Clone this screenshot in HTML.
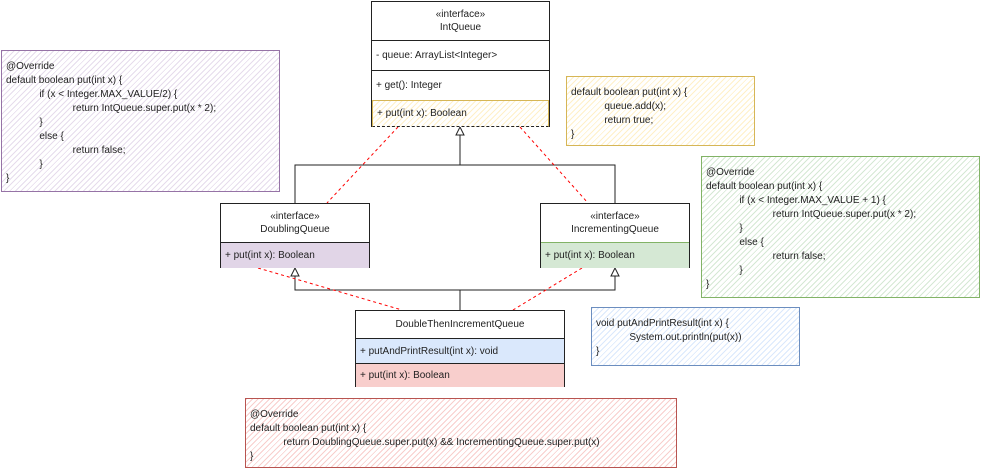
<!DOCTYPE html>
<html><head><meta charset="utf-8"><style>
body{margin:0;width:981px;height:469px;background:#fff;position:relative;overflow:hidden;font-family:"Liberation Sans",sans-serif;font-size:10px;color:#222}
.a{position:absolute;box-sizing:border-box}
.note{border:1px solid;padding:9px 4px;line-height:14px;white-space:pre}
.p{border-color:#9673a6;background:repeating-linear-gradient(135deg,#e6dcec 0 1px,#fff 1px 4px)}
.y{border-color:#d6b656;background:repeating-linear-gradient(135deg,#fff0c8 0 1px,#fff 1px 4px)}
.g{border-color:#82b366;background:repeating-linear-gradient(135deg,#d5e8d4 0 1px,#fff 1px 4px)}
.b{border-color:#6c8ebf;background:repeating-linear-gradient(135deg,#dae8fc 0 1px,#fff 1px 4px)}
.r{border-color:#b85450;background:repeating-linear-gradient(135deg,#f8cecc 0 1px,#fff 1px 4px)}
.box{border:1px solid #222;background:#fff}
.row{position:absolute;left:0;right:0;box-sizing:border-box;padding-left:4px;display:flex;align-items:center}
.c{justify-content:center;text-align:center;padding:0;line-height:13px}
</style></head><body>
<svg class="a" style="left:0;top:0" width="981" height="469">
<g stroke="#222" fill="none" stroke-width="1">
<polyline points="295,203 295,165 460,165 460,135"/>
<polyline points="615,203 615,165 460,165"/>
<polyline points="460,310 460,290 295,290 295,276"/>
<polyline points="460,290 615,290 615,276"/>
<polygon points="460,127 456,135 464,135" fill="#fff"/>
<polygon points="295,268 291,276 299,276" fill="#fff"/>
<polygon points="615,268 611,276 619,276" fill="#fff"/>
</g>
<g stroke="#f00" stroke-dasharray="3,3" stroke-width="1">
<line x1="398" y1="127" x2="327" y2="203"/>
<line x1="520" y1="127" x2="588" y2="203"/>
<line x1="258" y1="268" x2="402" y2="310"/>
<line x1="582" y1="268" x2="513" y2="310"/>
</g>
</svg>
<div class="a note p" style="left:1px;top:50px;width:279px;height:142px">@Override
default boolean put(int x) {
            if (x &lt; Integer.MAX_VALUE/2) {
                        return IntQueue.super.put(x * 2);
            }
            else {
                        return false;
            }
}</div>
<div class="a note y" style="left:566px;top:76px;width:189px;height:70px">default boolean put(int x) {
            queue.add(x);
            return true;
}</div>
<div class="a note g" style="left:701px;top:156px;width:279px;height:142px">@Override
default boolean put(int x) {
            if (x &lt; Integer.MAX_VALUE + 1) {
                        return IntQueue.super.put(x * 2);
            }
            else {
                        return false;
            }
}</div>
<div class="a note b" style="left:591px;top:307px;width:209px;height:59px">void putAndPrintResult(int x) {
            System.out.println(put(x))
}</div>
<div class="a note r" style="left:245px;top:398px;width:432px;height:70px">@Override
default boolean put(int x) {
            return DoublingQueue.super.put(x) &amp;&amp; IncrementingQueue.super.put(x)
}</div>

<div class="a box" style="left:371px;top:1px;width:179px;height:126px">
<div class="row c" style="top:0;height:39px;border-bottom:1px solid #222">«interface»<br>IntQueue</div>
<div class="row" style="top:39px;height:30px;border-bottom:1px solid #222">- queue: ArrayList&lt;Integer&gt;</div>
<div class="row" style="top:69px;height:29px">+ get(): Integer</div>
<div class="row y" style="top:98px;height:27px;border:1px solid #d6b656;border-bottom:1px dashed #222">+ put(int x): Boolean</div>
</div>

<div class="a box" style="left:220px;top:203px;width:150px;height:65px">
<div class="row c" style="top:0;height:38px">«interface»<br>DoublingQueue</div>
<div class="row" style="top:38px;height:26px;background:#e1d5e7;border-top:1px solid #222">+ put(int x): Boolean</div>
</div>
<div class="a box" style="left:540px;top:203px;width:150px;height:65px">
<div class="row c" style="top:0;height:38px">«interface»<br>IncrementingQueue</div>
<div class="row" style="top:38px;height:26px;background:#d5e8d4;border-top:1px solid #82b366">+ put(int x): Boolean</div>
</div>
<div class="a box" style="left:355px;top:310px;width:210px;height:77px">
<div class="row c" style="top:0;height:27px">DoubleThenIncrementQueue</div>
<div class="row" style="top:27px;height:25px;background:#dae8fc;border-top:1px solid #222">+ putAndPrintResult(int x): void</div>
<div class="row" style="top:52px;height:24px;background:#f8cecc;border-top:1px solid #222">+ put(int x): Boolean</div>
</div>
</body></html>
